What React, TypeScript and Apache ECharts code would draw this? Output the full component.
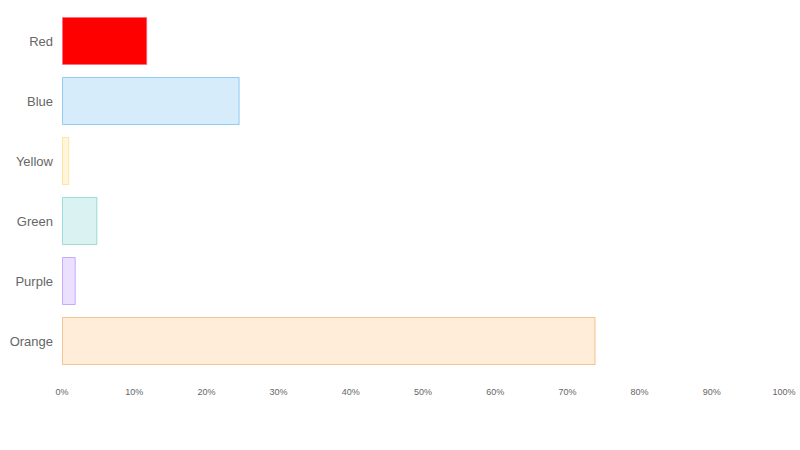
import React, { useEffect, useRef } from "react";
import * as echarts from "echarts";

const categories = ["Red", "Blue", "Yellow", "Green", "Purple", "Orange"];
const values = [11.8, 24.6, 1, 4.9, 1.9, 73.9];
const fillColors = [
  "#ff0000",
  "rgba(54,162,235,0.2)",
  "rgba(255,206,86,0.2)",
  "rgba(75,192,192,0.2)",
  "rgba(153,102,255,0.2)",
  "rgba(255,159,64,0.2)",
];
const borderColors = [
  "rgba(255,99,132,0.6)",
  "rgba(54,162,235,0.5)",
  "rgba(255,206,86,0.5)",
  "rgba(75,192,192,0.5)",
  "rgba(153,102,255,0.5)",
  "rgba(230,150,60,0.5)",
];

export default function App() {
  const ref = useRef<HTMLDivElement>(null);
  useEffect(() => {
    if (!ref.current) return;
    const chart = echarts.init(ref.current, undefined, { renderer: "svg" });
    chart.setOption({
      animation: false,
      backgroundColor: "#ffffff",
      grid: { left: 62, right: 16, top: 11, height: 360, containLabel: false },
      xAxis: {
        type: "value",
        min: 0,
        max: 100,
        interval: 10,
        axisLine: { show: false },
        axisTick: { show: false },
        splitLine: { show: false },
        axisLabel: {
          formatter: "{value}%",
          color: "#666",
          fontSize: 9,
          margin: 16,
          fontFamily: "Liberation Sans, Arial, sans-serif",
        },
      },
      yAxis: {
        type: "category",
        data: categories,
        inverse: true,
        axisLine: { show: false },
        axisTick: { show: false },
        splitLine: { show: false },
        axisLabel: {
          color: "#666",
          fontSize: 13,
          margin: 9,
          fontFamily: "Liberation Sans, Arial, sans-serif",
        },
      },
      series: [
        {
          type: "bar",
          barCategoryGap: "20%",
          data: values.map((v, i) => ({
            value: v,
            itemStyle: {
              color: fillColors[i],
              borderColor: borderColors[i],
              borderWidth: 1,
            },
          })),
        },
      ],
    });
    return () => chart.dispose();
  }, []);
  return (
    <div
      ref={ref}
      style={{ position: "absolute", left: 0, top: 0, width: 800, height: 450 }}
    />
  );
}
